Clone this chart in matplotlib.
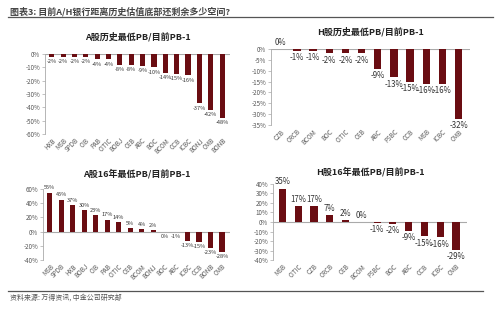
import numpy as np
from matplotlib import pyplot as plt

plt.rcParams['font.family'] = ['Noto Sans CJK SC', 'DejaVu Sans']

# 数据: 各银行 (估值底部PB / 目前PB - 1), %
a_hist_banks = ['HXB', 'MSB', 'SPDB', 'CIB', 'PAB', 'CITIC', 'BOBJ', 'CEB', 'ABC', 'BOC',
                'BCOM', 'CCB', 'ICBC', 'BONJ', 'CMB', 'BONB']
a_hist_vals = [-2, -2, -2, -2, -4, -4, -8, -8, -9, -10, -14, -15, -16, -37, -42, -48]

h_hist_banks = ['CZB', 'CRCB', 'BCOM', 'BOC', 'CITIC', 'CEB', 'ABC', 'PSBC', 'CCB', 'MSB', 'ICBC', 'CMB']
h_hist_vals = [0, -1, -1, -2, -2, -2, -9, -13, -15, -16, -16, -32]

a_16_banks = ['MSB', 'SPDB', 'HXB', 'BOBJ', 'CIB', 'PAB', 'CITIC', 'CEB', 'BCOM', 'BONJ', 'BOC',
              'ABC', 'ICBC', 'CCB', 'BONB', 'CMB']
a_16_vals = [55, 45, 37, 30, 23, 17, 14, 5, 4, 2, 0, -1, -13, -15, -23, -28]

h_16_banks = ['MSB', 'CITIC', 'CZB', 'CRCB', 'CEB', 'BCOM', 'PSBC', 'BOC', 'ABC', 'CCB', 'ICBC', 'CMB']
h_16_vals = [35, 17, 17, 7, 2, 0, -1, -2, -9, -15, -16, -29]

RED = '#6a0d12'
GREY = '#555555'

fig = plt.figure(figsize=(5, 3.16), dpi=100)

def panel(rect, banks, vals, title, ylim, step, lab_fs, tick_fs, zero_up=True, title_y=1.12):
    ax = fig.add_axes(rect)
    x = np.arange(len(banks))
    ax.bar(x, vals, width=0.45, color=RED, zorder=3)
    ax.axhline(0, color='#aaaaaa', lw=0.8, zorder=2)
    ax.set_xlim(-0.6, len(banks) - 0.3)
    ax.set_ylim(*ylim)
    ticks = np.arange(ylim[0], ylim[1] + 0.1, step)
    ax.set_yticks(ticks)
    ax.set_yticklabels([f'{t:.0f}%' for t in ticks], fontsize=tick_fs, color=GREY)
    ax.set_xticks(x)
    ax.set_xticklabels(banks, rotation=45, ha='right', rotation_mode='anchor',
                       fontsize=tick_fs, color=GREY)
    ax.tick_params(axis='x', length=0, pad=2)
    ax.tick_params(axis='y', length=2, width=0.5, color='#aaaaaa', pad=1.5)
    for s in ('top', 'right', 'bottom'):
        ax.spines[s].set_visible(False)
    ax.spines['left'].set_color('#aaaaaa')
    ax.spines['left'].set_linewidth(0.6)
    off = (ylim[1] - ylim[0]) * 0.03
    for xi, v in zip(x, vals):
        up = v > 0 or (v == 0 and zero_up)
        ax.text(xi, v + off if up else v - off, f'{v}%', ha='center',
                va='bottom' if up else 'top', fontsize=lab_fs, color='#333333')
    ax.set_title(title, fontsize=6.5, fontweight='bold', color='#222222', y=title_y, pad=0)
    return ax

panel([0.09, 0.576, 0.37, 0.253], a_hist_banks, a_hist_vals, 'A股历史最低PB/目前PB-1',
      (-60, 0), 10, 4.0, 4.5, title_y=1.18)
panel([0.542, 0.604, 0.398, 0.241], h_hist_banks, h_hist_vals, 'H股历史最低PB/目前PB-1',
      (-35, 0), 5, 5.7, 4.5, title_y=1.19)
panel([0.086, 0.177, 0.374, 0.225], a_16_banks, a_16_vals, 'A股16年最低PB/目前PB-1',
      (-40, 60), 20, 4.0, 4.5, zero_up=False, title_y=1.17)
panel([0.546, 0.177, 0.388, 0.241], h_16_banks, h_16_vals, 'H股16年最低PB/目前PB-1',
      (-40, 40), 10, 5.7, 4.5, title_y=1.12)

fig.text(0.02, 0.962, '图表3: 目前A/H银行距离历史估值底部还剩余多少空间?', fontsize=6.5,
         fontweight='bold', color='#444444', va='center')
fig.add_artist(plt.Line2D([0.015, 0.985], [0.945, 0.945], color='#555555', lw=0.9))
fig.add_artist(plt.Line2D([0.015, 0.965], [0.079, 0.079], color='#555555', lw=0.9))
fig.text(0.02, 0.058, '资料来源: 万得资讯, 中金公司研究部', fontsize=5, color='#555555',
         va='center')

fig.savefig('out.png', dpi=100)
